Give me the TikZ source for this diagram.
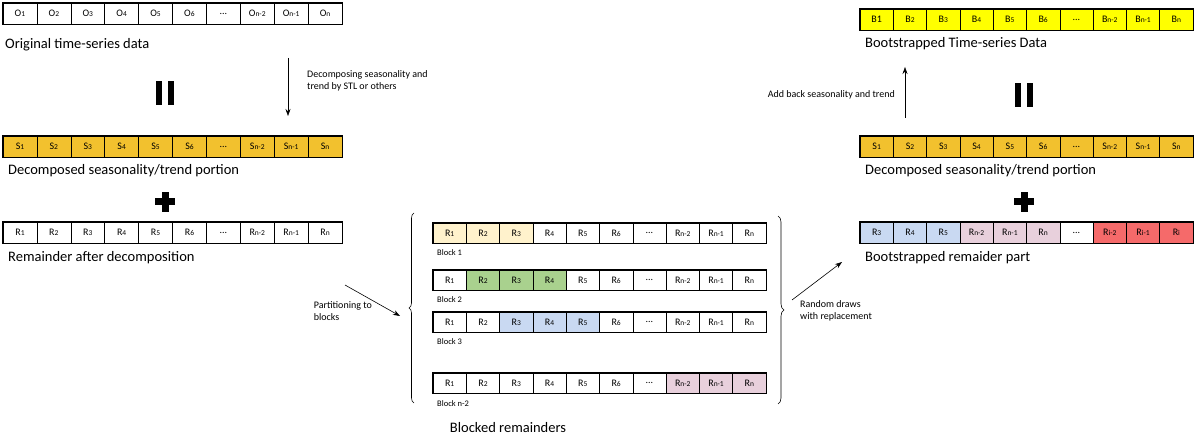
\documentclass[tikz,border=0pt]{standalone}
\usepackage{fontspec}
\setmainfont{Carlito}
\usetikzlibrary{arrows.meta,decorations.pathreplacing}
\definecolor{gold}{HTML}{F2C12E}
\definecolor{byel}{HTML}{FFFF00}
\definecolor{lor}{HTML}{FFF2CC}
\definecolor{lgr}{HTML}{A9D18E}
\definecolor{lbl}{HTML}{C9D9F2}
\definecolor{lpk}{HTML}{E8D0DC}
\definecolor{lrd}{HTML}{F56A6A}
\newcommand{\subn}[1]{{\fontsize{7.5}{8}\selectfont #1}}
\newcommand{\ddd}{...}
\newcommand{\mkrow}[6]{%
  \foreach \ctxt/\ccol [count=\ci from 0] in {#6} {
    \node[cellbox, fill=\ccol, minimum width=#4pt, minimum height=#5pt] (#1\ci) at ({#2+(\ci+0.5)*#4}, {#3+#5/2}) {\ctxt};
  }
}
\newcommand{\eqsign}[3]{%
  \fill (#2-9,#3-12) rectangle (#2-3,#3+12);
  \fill (#2+3,#3-12) rectangle (#2+9,#3+12);
  \coordinate (#1) at (#2,#3);
}
\newcommand{\plussign}[3]{%
  \fill (#2-3.5,#3-10) rectangle (#2+3.5,#3+10);
  \fill (#2-10,#3-3.5) rectangle (#2+10,#3+3.5);
  \coordinate (#1) at (#2,#3);
}
\tikzset{
  cellbox/.style={draw=black, line width=0.5pt, inner sep=0pt, font=\fontsize{10}{11}\selectfont},
  rowframe/.style={draw=black, line width=1.2pt},
  biglabel/.style={anchor=west, font=\fontsize{14.5}{16}\selectfont, inner sep=0pt},
  smlabel/.style={font=\fontsize{10}{12}\selectfont, inner sep=0pt, align=left},
  blk/.style={anchor=west, font=\fontsize{8.5}{10}\selectfont, inner sep=0pt},
  arr/.style={-{Stealth[length=7pt,width=5pt]}, line width=0.6pt}
}
\begin{document}
\begin{tikzpicture}[x=1pt,y=-1pt]
\useasboundingbox (0,0) rectangle (1200,443);
% left column
\mkrow{o}{3}{3}{33.9}{21}{O\subn1/white,O\subn2/white,O\subn3/white,O\subn4/white,O\subn5/white,O\subn6/white,\ddd/white,O\subn{n-2}/white,O\subn{n-1}/white,O\subn n/white}
\draw[rowframe] (o0.north west) rectangle (o9.south east);
\node[biglabel] (ol) at (5,45) {Original time-series data};
\eqsign{eq1}{165}{93}
\mkrow{s}{3}{136}{33.9}{21}{S\subn1/gold,S\subn2/gold,S\subn3/gold,S\subn4/gold,S\subn5/gold,S\subn6/gold,\ddd/gold,S\subn{n-2}/gold,S\subn{n-1}/gold,S\subn n/gold}
\draw[rowframe] (s0.north west) rectangle (s9.south east);
\node[biglabel] (sl) at (8,171) {Decomposed seasonality/trend portion};
\plussign{pl1}{165}{202}
\mkrow{r}{3}{222}{33.9}{21}{R\subn1/white,R\subn2/white,R\subn3/white,R\subn4/white,R\subn5/white,R\subn6/white,\ddd/white,R\subn{n-2}/white,R\subn{n-1}/white,R\subn n/white}
\draw[rowframe] (r0.north west) rectangle (r9.south east);
\node[biglabel] (rl) at (8,258) {Remainder after decomposition};
\coordinate (d1) at (288,58); \coordinate (d2) at (288,116);
\draw[arr] (d1) -- (d2);
\node[smlabel,anchor=west] (dl) at (307,81) {Decomposing seasonality and\\trend by STL or others};
% middle
\mkrow{a}{433}{223}{33.3}{20}{R\subn1/lor,R\subn2/lor,R\subn3/lor,R\subn4/white,R\subn5/white,R\subn6/white,\ddd/white,R\subn{n-2}/white,R\subn{n-1}/white,R\subn n/white}
\draw[rowframe] (a0.north west) rectangle (a9.south east);
\node[blk] (al) at (437,253) {Block 1};
\mkrow{b}{433}{270}{33.3}{20}{R\subn1/white,R\subn2/lgr,R\subn3/lgr,R\subn4/lgr,R\subn5/white,R\subn6/white,\ddd/white,R\subn{n-2}/white,R\subn{n-1}/white,R\subn n/white}
\draw[rowframe] (b0.north west) rectangle (b9.south east);
\node[blk] (bl) at (437,300) {Block 2};
\mkrow{c}{433}{312}{33.3}{20}{R\subn1/white,R\subn2/white,R\subn3/lbl,R\subn4/lbl,R\subn5/lbl,R\subn6/white,\ddd/white,R\subn{n-2}/white,R\subn{n-1}/white,R\subn n/white}
\draw[rowframe] (c0.north west) rectangle (c9.south east);
\node[blk] (cl) at (437,342) {Block 3};
\mkrow{e}{433}{373}{33.3}{20}{R\subn1/white,R\subn2/white,R\subn3/white,R\subn4/white,R\subn5/white,R\subn6/white,\ddd/white,R\subn{n-2}/lpk,R\subn{n-1}/lpk,R\subn n/lpk}
\draw[rowframe] (e0.north west) rectangle (e9.south east);
\node[blk] (el) at (437,404) {Block n-2};
\coordinate (lb1) at (414,213); \coordinate (lb2) at (414,403);
\draw[line width=0.6pt,decorate,decoration={brace,amplitude=5pt,aspect=0.5}] (lb2) -- (lb1);
\coordinate (rb1) at (778,216); \coordinate (rb2) at (778,404);
\draw[line width=0.6pt,decorate,decoration={brace,amplitude=6pt,aspect=0.5}] (rb1) -- (rb2);
\node[font=\fontsize{14.5}{16}\selectfont, inner sep=0pt] (bll) at (508,428) {Blocked remainders};
\coordinate (p1) at (345,285); \coordinate (p2) at (400,316);
\draw[arr] (p1) -- (p2);
\node[smlabel,anchor=east,align=left] (pl) at (372,311) {Partitioning to\\blocks};
\coordinate (q1) at (792,300); \coordinate (q2) at (842,262);
\draw[arr] (q1) -- (q2);
\node[smlabel,anchor=west] (ql) at (800,311) {Random draws\\with replacement};
% right column
\mkrow{bb}{860}{9}{33.3}{21}{B1/byel,B\subn2/byel,B\subn3/byel,B\subn4/byel,B\subn5/byel,B\subn6/byel,\ddd/byel,B\subn{n-2}/byel,B\subn{n-1}/byel,B\subn n/byel}
\draw[rowframe] (bb0.north west) rectangle (bb9.south east);
\node[biglabel] (bbl) at (865,44) {Bootstrapped Time-series Data};
\eqsign{eq2}{1024}{95}
\coordinate (u1) at (905,118); \coordinate (u2) at (905,67);
\draw[arr] (u1) -- (u2);
\node[smlabel,anchor=east] (ul) at (895,95) {Add back seasonality and trend};
\mkrow{ss}{860}{136}{33.3}{21}{S\subn1/gold,S\subn2/gold,S\subn3/gold,S\subn4/gold,S\subn5/gold,S\subn6/gold,\ddd/gold,S\subn{n-2}/gold,S\subn{n-1}/gold,S\subn n/gold}
\draw[rowframe] (ss0.north west) rectangle (ss9.south east);
\node[biglabel] (ssl) at (865,171) {Decomposed seasonality/trend portion};
\plussign{pl2}{1024}{202}
\mkrow{rr}{860}{222}{33.3}{21}{R\subn3/lbl,R\subn4/lbl,R\subn5/lbl,R\subn{n-2}/lpk,R\subn{n-1}/lpk,R\subn n/lpk,\ddd/white,R\subn{i-2}/lrd,R\subn{i-1}/lrd,R\subn i/lrd}
\draw[rowframe] (rr0.north west) rectangle (rr9.south east);
\node[biglabel] (rrl) at (865,258) {Bootstrapped remaider part};
\end{tikzpicture}
\end{document}
